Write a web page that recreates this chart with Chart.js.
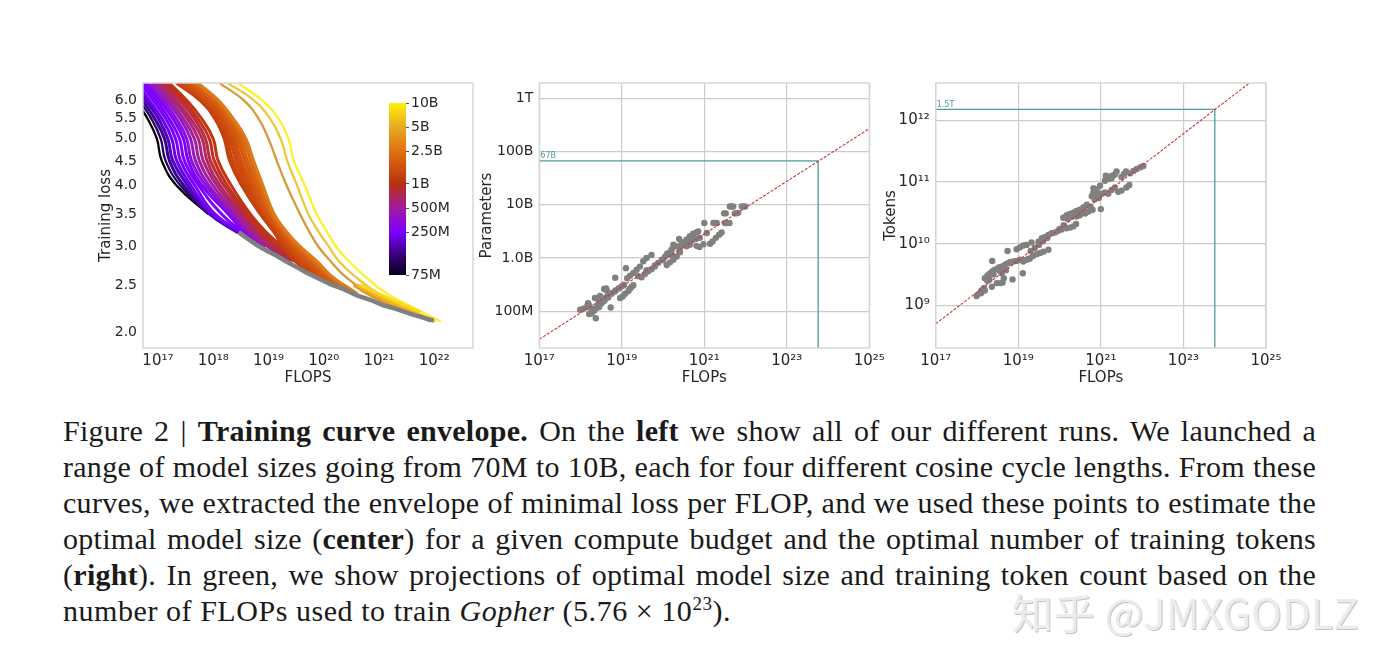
<!DOCTYPE html>
<html><head><meta charset="utf-8">
<script src="https://cdn.jsdelivr.net/npm/chart.js@4"></script>
<style>
html,body{margin:0;padding:0;background:#fff;width:1394px;height:672px;overflow:hidden}
canvas{position:absolute}
#caption{position:absolute;left:63px;top:413px;width:1253px;font-family:"Liberation Serif",serif;font-size:30px;letter-spacing:.28px;line-height:36px;color:#1a1a1a}
#caption div{text-align:justify;text-align-last:justify;white-space:nowrap}
#caption div.last{text-align-last:left;letter-spacing:.55px}
sup{font-size:19px;line-height:0}
#mark{position:absolute;left:1012px;top:581px;font-family:"Noto Sans CJK SC","DejaVu Sans",sans-serif;font-size:41px;color:#ececec;text-shadow:1px 1px 0 #c4c4c4;white-space:nowrap;letter-spacing:.4px}
</style></head><body>
<canvas id="c1" width="392" height="320" style="left:90px;top:70px"></canvas>
<canvas id="cb" width="110" height="200" style="left:370px;top:90px"></canvas>
<canvas id="c2" width="420" height="320" style="left:470px;top:70px"></canvas>
<canvas id="c3" width="420" height="320" style="left:870px;top:70px"></canvas>
<div id="caption">
<div>Figure 2 | <b>Training curve envelope.</b> On the <b>left</b> we show all of our different runs. We launched a</div>
<div>range of model sizes going from 70M to 10B, each for four different cosine cycle lengths. From these</div>
<div>curves, we extracted the envelope of minimal loss per FLOP, and we used these points to estimate the</div>
<div>optimal model size (<b>center</b>) for a given compute budget and the optimal number of training tokens</div>
<div>(<b>right</b>). In green, we show projections of optimal model size and training token count based on the</div>
<div class="last">number of FLOPs used to train <i>Gopher</i> (5.76 × 10<sup>23</sup>).</div>
</div>
<div id="mark">知乎 @JMXGODLZ</div>
<script>
// ---------- left panel data: log10(FLOPS) of each run at each loss level ----------
const lossLevels=[6.5,6.0,5.5,5.0,4.5,4.0,3.5,3.2,3.0,2.8,2.6,2.4,2.2,2.1];
const run00=[16.42,16.60,16.81,16.98,17.07,17.34,17.91];
const run01=[16.47,16.66,16.88,17.05,17.14,17.41,17.92];
const run02=[16.53,16.72,16.94,17.12,17.21,17.47,17.93,18.45];
const run03=[16.58,16.78,17.01,17.18,17.27,17.54,17.95,18.47];
const run04=[16.63,16.84,17.07,17.25,17.34,17.60,17.98,18.49];
const run05=[16.69,16.91,17.14,17.32,17.41,17.67,18.03,18.52];
const run06=[16.74,16.97,17.20,17.39,17.48,17.74,18.15,18.55,18.88];
const run07=[16.79,17.03,17.27,17.46,17.55,17.80,18.27,18.58,18.90];
const run08=[16.84,17.09,17.33,17.52,17.61,17.87,18.32,18.62,18.92];
const run09=[16.90,17.15,17.40,17.59,17.68,17.93,18.37,18.66,18.95];
const run10=[16.95,17.21,17.46,17.66,17.75,18.00,18.42,18.70,18.98,19.33];
const run11=[17.00,17.27,17.53,17.73,17.82,18.07,18.47,18.75,19.02,19.36];
const run12=[17.05,17.33,17.59,17.80,17.89,18.13,18.52,18.80,19.06,19.42];
const run13=[17.11,17.40,17.66,17.86,17.95,18.20,18.57,18.85,19.11,19.47];
const run14=[17.16,17.46,17.72,17.93,18.02,18.26,18.62,18.91,19.17,19.45];
const run15=[17.21,17.52,17.79,18.00,18.09,18.33,18.67,18.97,19.24,19.48];
const run16=[17.34,17.76,18.03,18.20,18.30,18.52,18.85,19.11,19.26,19.48,19.87,20.54];
const run17=[17.39,17.80,18.07,18.25,18.35,18.57,18.88,19.14,19.30,19.53,19.90,20.55];
const run18=[17.44,17.84,18.11,18.30,18.41,18.62,18.91,19.17,19.34,19.58,19.94,20.55];
const run19=[17.49,17.88,18.15,18.35,18.46,18.66,18.94,19.20,19.38,19.63,19.97,20.56];
const run20=[17.53,17.92,18.19,18.39,18.51,18.71,18.97,19.22,19.41,19.67,20.01,20.57];
const run21=[17.58,17.97,18.24,18.44,18.57,18.76,19.01,19.25,19.45,19.72,20.04,20.58];
const run22=[17.63,18.01,18.28,18.49,18.62,18.81,19.04,19.28,19.49,19.77,20.08,20.58];
const run23=[17.68,18.05,18.32,18.54,18.68,18.85,19.07,19.31,19.53,19.82,20.11,20.59];
const run24=[17.73,18.09,18.36,18.59,18.73,18.90,19.10,19.34,19.57,19.87,20.15,20.60];
const run25=[18.12,18.55,18.82,19.00,19.15,19.33,19.57,19.75,19.90,20.12,20.39,20.84,21.57,21.93];
const run26=[18.27,18.73,19.03,19.22,19.34,19.52,19.72,19.92,20.09,20.27,20.57,20.99,21.66,22.02];
const run27=[18.46,18.88,19.18,19.36,19.46,19.66,19.87,20.07,20.22,20.45,20.75,21.14,21.78,22.12];
const lateLoss=[2.5,2.4,2.3,2.2];
const late1=[20.54,20.78,21.11,21.57];
const late2=[20.60,20.90,21.23,21.66];
const late3=[20.66,20.99,21.35,21.75];
const envelopeFlops=[18.46,18.61,18.79,18.97,19.15,19.33,19.51,19.69,19.87,20.12,20.36,20.60,20.84,21.08,21.32,21.57,21.81,21.99];
const envelopeLoss=[3.21,3.12,3.02,2.94,2.87,2.79,2.72,2.65,2.59,2.51,2.45,2.38,2.33,2.27,2.23,2.18,2.14,2.11];
const lossTicks=[2,2.5,3,3.5,4,4.5,5,5.5,6];
const flopsTicksLeft=[17,18,19,20,21,22];
const runs=[run00,run01,run02,run03,run04,run05,run06,run07,run08,run09,run10,run11,run12,run13,run14,run15,run16,run17,run18,run19,run20,run21,run22,run23,run24,run25,run26,run27];
const runColors=['#000000','#240060','#3a0090','#5000c0','#6800e8','#7800ff','#7c00ff','#8000f5','#8810e0','#9418c0','#a01f9c','#aa2480','#b02860','#b82c3c','#be3020','#c23414',
'#c2400e','#c8440e','#cc480e','#d04c0e','#d25210','#d45810','#d86010','#da6a12','#dc7a1c','#d49a3c','#eec83a','#fdf02c'];
const lateColors=['#e89a20','#f0b820','#f8d820'];
const sizeTicks=[75e6,250e6,500e6,1e9,2.5e9,5e9,1e10];
const sizeLabels={75e6:'75M',250e6:'250M',500e6:'500M',1e9:'1B',2.5e9:'2.5B',5e9:'5B',1e10:'10B'};

// ---------- centre panel: log10(FLOPs), log10(parameters) ----------
const paramFlops=[17.99,18.07,18.15,18.18,18.21,18.27,18.37,18.33,18.39,18.45,18.51,18.58,18.35,18.47,18.57,18.62,18.63,18.73,18.67,18.75,18.83,18.92,19.00,19.05,18.84,18.96,19.02,19.08,19.20,19.28,19.10,19.13,19.20,19.28,19.36,19.44,19.52,19.60,19.72,19.48,19.56,19.64,19.72,19.80,19.88,19.97,20.05,20.13,20.21,20.09,20.17,20.25,20.33,20.41,20.25,20.39,20.37,20.49,20.57,20.65,20.73,20.81,20.57,20.65,20.81,20.88,20.98,21.00,20.89,21.06,21.14,21.20,21.28,21.36,21.42,21.22,21.30,21.50,21.61,21.48,21.74,21.82,21.62,21.70,21.91,21.99,
18.45,18.55,18.65,18.75,18.85,18.95,19.05,19.40,19.60,19.80,20.00,20.20,20.40,20.60,20.80,20.30,20.45,20.10,20.20,20.50,20.70,20.75,20.85,21.66,21.95,21.78,21.55,21.26,21.52,18.20,18.30,18.42,18.26,19.16,19.24];
const paramSizes=[8.03,8.05,8.08,8.15,7.95,7.96,7.87,8.01,8.06,8.08,8.15,8.20,8.25,8.29,8.42,8.43,8.40,8.07,8.26,8.33,8.37,8.43,8.47,8.50,8.63,8.25,8.28,8.33,8.43,8.49,8.81,8.62,8.67,8.72,8.78,8.84,8.94,9.00,9.06,8.64,8.70,8.75,8.79,8.84,8.91,8.97,9.03,9.09,9.16,8.87,8.92,8.97,9.03,9.11,9.25,9.36,9.22,9.28,9.35,9.41,9.46,9.48,9.22,9.25,9.23,9.21,9.26,9.66,9.38,9.47,9.27,9.31,9.38,9.44,9.48,9.66,9.66,9.66,9.66,9.84,9.84,9.85,9.97,9.97,9.97,9.97,
8.19,8.24,8.29,8.34,8.39,8.44,8.49,8.66,8.77,8.86,8.96,9.06,9.16,9.26,9.36,9.22,9.30,9.08,9.14,9.24,9.33,9.38,9.50,9.97,9.97,9.84,9.66,9.66,9.84,8.12,8.05,8.12,7.99,8.38,8.46];
const paramFitFlops=[17,25];
const paramFitSizes=[7.474,11.432];
const gopherFlops=5.76e23;
const gopherParams=67e9;
const gopherTokens=1.5e12;
const paramTicks=[1e8,1e9,1e10,1e11,1e12];
const paramLabels={1e8:'100M',1e9:'1.0B',1e10:'10B',1e11:'100B',1e12:'1T'};

// ---------- right panel: log10(FLOPs), log10(tokens) ----------
const tokenFlops=[17.99,18.06,18.11,18.17,18.19,18.19,18.25,18.30,18.36,18.41,18.48,18.54,18.61,18.68,18.74,18.80,18.88,18.96,19.04,18.37,18.36,18.48,18.56,18.62,18.65,18.86,19.11,18.74,18.96,19.04,19.12,19.20,19.32,19.12,19.20,19.28,19.36,19.45,19.53,19.61,19.73,19.49,19.57,19.65,19.73,19.81,19.89,19.97,20.05,20.17,20.25,20.33,20.40,20.09,20.17,20.25,20.33,20.41,20.49,20.58,20.66,20.41,20.49,20.62,20.70,20.80,21.00,20.78,20.82,20.90,20.98,20.94,21.02,21.10,21.18,21.26,21.34,21.42,21.50,21.62,21.69,21.14,21.22,21.30,21.38,21.50,21.56,21.61,21.71,21.79,21.87,21.96,22.03,
18.60,18.70,19.30,19.40,19.50,19.60,19.70,19.15,19.25,20.00,20.10,20.20,20.30,20.40,20.50,20.60,20.75,20.85,20.90,20.95,20.82,21.18,21.26,21.34,21.10,21.12,18.10,18.25,18.30,18.40,18.55];
const tokenCounts=[9.15,9.19,9.24,9.28,9.24,9.44,9.48,9.51,9.54,9.57,9.59,9.62,9.63,9.66,9.68,9.70,9.71,9.72,9.74,9.72,9.30,9.36,9.36,9.37,9.44,9.42,9.52,9.88,9.91,9.94,9.97,9.98,10.02,9.71,9.74,9.76,9.80,9.83,9.85,9.87,9.90,10.03,10.09,10.11,10.14,10.17,10.18,10.21,10.23,10.25,10.26,10.28,10.32,10.42,10.46,10.48,10.50,10.53,10.55,10.59,10.63,10.44,10.46,10.49,10.52,10.55,10.56,10.77,10.83,10.88,10.94,10.79,10.81,10.83,10.81,10.87,10.91,10.84,10.86,10.91,10.95,11.06,11.09,11.11,11.17,11.08,11.13,11.17,11.14,11.18,11.21,11.24,11.26,
9.52,9.57,9.88,9.93,9.98,10.04,10.09,9.73,9.75,10.24,10.30,10.40,10.44,10.50,10.50,10.52,10.60,10.72,10.78,10.74,10.90,11.05,11.06,11.12,11.02,11.10,9.20,9.40,9.42,9.50,9.56];
const tokenFitFlops=[17,24.59];
const tokenFitCounts=[8.70,12.60];
const tokenTicks=[1e9,1e10,1e11,1e12];
const decadeTicks=[17,19,21,23,25];

// ---------- helpers ----------
const TEXT='#262626',GRID='#cccccc',FRAME='#d4d4d4',TEAL='#4f9a9c',RED='#c8383c',GREY='#808080';
const FONT={family:'"DejaVu Sans",sans-serif',size:14};
const FONTX={family:'"DejaVu Sans",sans-serif',size:15};
const FONTT={family:'"DejaVu Sans",sans-serif',size:15};
const SUP={0:'⁰',1:'¹',2:'²',3:'³',4:'⁴',5:'⁵',6:'⁶',7:'⁷',8:'⁸',9:'⁹'};
const pow10=v=>'10'+String(Math.round(Math.log10(v))).split('').map(d=>SUP[d]).join('');
const frame={id:'frame',afterDatasetsDraw(ch){const a=ch.chartArea,c=ch.ctx;c.save();c.strokeStyle=FRAME;c.lineWidth=1.4;c.strokeRect(a.left,a.top,a.width,a.height);c.restore();}};
function projLabel(text,yVal){return {id:'proj',afterDatasetsDraw(ch){const c=ch.ctx;c.save();c.fillStyle=TEAL;c.font='8px "DejaVu Sans",sans-serif';c.textBaseline='bottom';c.fillText(text,ch.chartArea.left+1,ch.scales.y.getPixelForValue(yVal)-1);c.restore();}};}
function xAxis(min,max,ticks,title,grid){return {type:'logarithmic',min:10**min,max:10**max,
  afterBuildTicks(s){s.ticks=ticks.map(e=>({value:10**e}));},
  afterFit(s){s.height=42;s.paddingLeft=0;s.paddingRight=0;},
  ticks:{color:TEXT,font:FONTX,padding:4,autoSkip:false,maxRotation:0,callback:pow10},
  grid:{display:grid,color:GRID,lineWidth:1.2,drawTicks:false},border:{display:false},
  title:{display:true,text:title,color:TEXT,font:FONTT,padding:{top:0,bottom:3}}};}
function yAxis(min,max,ticks,title,w,pad,cb,grid,f){return {type:'logarithmic',min:min,max:max,
  afterBuildTicks(s){s.ticks=ticks.map(v=>({value:v}));},
  afterFit(s){s.width=w;s.paddingTop=0;s.paddingBottom=0;},
  ticks:{color:TEXT,font:f||FONT,padding:6,autoSkip:false,callback:cb},
  grid:{display:grid,color:GRID,lineWidth:1.2,drawTicks:false},border:{display:false},
  title:{display:true,text:title,color:TEXT,font:FONTT,padding:{top:pad,bottom:0}}};}
const zip=(xs,ys)=>xs.map((x,i)=>({x:10**x,y:ys[i]}));
const base={responsive:false,animation:false,events:[],plugins:{legend:{display:false},tooltip:{enabled:false}}};
const curve=(d,c,w,o)=>({type:'line',data:d,borderColor:c,borderWidth:w,pointRadius:0,tension:0.45,order:o});

// ---------- left ----------
new Chart(document.getElementById('c1'),{type:'scatter',
 data:{datasets:[
  ...runs.map((r,i)=>curve(zip(r,lossLevels),runColors[i],i<2?2.3:(i>=25?2.3:(i<16?3:3.2)),100-i)),
  curve(zip(late1,lateLoss),lateColors[0],3,60),
  curve(zip(late2,lateLoss),lateColors[1],3,59),
  curve(zip(late3,lateLoss),lateColors[2],3,58),
  {type:'line',data:zip(envelopeFlops,envelopeLoss),borderColor:GREY,borderWidth:4.5,pointRadius:0,order:1}
 ]},
 options:{...base,layout:{padding:{left:0,right:9,top:13,bottom:0}},
  scales:{x:xAxis(16.73,22.7,flopsTicksLeft,'FLOPS',false),
   y:yAxis(1.854,6.51,lossTicks,'Training loss',53,7,v=>Number(v).toFixed(1),false)}},
 plugins:[frame]});

// ---------- colour bar ----------
new Chart(document.getElementById('cb'),{type:'bar',
 data:{labels:['size'],datasets:[{data:[[75e6,1e10]],barPercentage:1,categoryPercentage:1,
  backgroundColor(ctx){const a=ctx.chart.chartArea;if(!a)return '#000';const g=ctx.chart.ctx.createLinearGradient(0,a.bottom,0,a.top);
   [[0,'#0a0020'],[.1,'#30006a'],[.246,'#7a00ff'],[.388,'#a01aa0'],[.53,'#b83010'],[.717,'#e07010'],[.858,'#e8a825'],[1,'#fff000']].forEach(s=>g.addColorStop(s[0],s[1]));return g;}}]},
 options:{...base,layout:{padding:{left:19,right:0,top:13,bottom:15}},
  scales:{x:{display:false},
   y:{type:'logarithmic',position:'right',min:75e6,max:1e10,
    afterBuildTicks(s){s.ticks=sizeTicks.map(v=>({value:v}));},
    afterFit(s){s.width=74;s.paddingTop=0;s.paddingBottom=0;},
    ticks:{color:TEXT,font:FONT,padding:2,autoSkip:false,callback:v=>sizeLabels[v]},
    grid:{drawOnChartArea:false,drawTicks:true,tickLength:3,color:TEXT,lineWidth:.8},border:{display:false}}}}});

// ---------- centre ----------
new Chart(document.getElementById('c2'),{type:'scatter',
 data:{datasets:[
  {type:'line',data:zip(paramFitFlops,paramFitSizes.map(v=>10**v)),borderColor:RED,borderWidth:1.1,borderDash:[3,1.5],pointRadius:0,order:1},
  {data:zip(paramFlops,paramSizes.map(v=>10**v)),backgroundColor:GREY,borderWidth:0,pointRadius:3.2,order:2},
  {type:'line',data:[{x:1e17,y:gopherParams},{x:gopherFlops,y:gopherParams},{x:gopherFlops,y:1e7}],borderColor:TEAL,borderWidth:1.3,pointRadius:0,order:3}
 ]},
 options:{...base,layout:{padding:{left:0,right:20.7,top:13,bottom:0}},
  scales:{x:xAxis(17,25,decadeTicks,'FLOPs',true),
   y:yAxis(10**7.31,10**12.29,paramTicks,'Parameters',69.3,8,v=>paramLabels[v],true)}},
 plugins:[frame,projLabel('67B',gopherParams)]});

// ---------- right ----------
new Chart(document.getElementById('c3'),{type:'scatter',
 data:{datasets:[
  {type:'line',data:zip(tokenFitFlops,tokenFitCounts.map(v=>10**v)),borderColor:RED,borderWidth:1.1,borderDash:[3,1.5],pointRadius:0,order:1},
  {data:zip(tokenFlops,tokenCounts.map(v=>10**v)),backgroundColor:GREY,borderWidth:0,pointRadius:3.2,order:2},
  {type:'line',data:[{x:1e17,y:gopherTokens},{x:gopherFlops,y:gopherTokens},{x:gopherFlops,y:1e8}],borderColor:TEAL,borderWidth:1.3,pointRadius:0,order:3}
 ]},
 options:{...base,layout:{padding:{left:0,right:24,top:13,bottom:0}},
  scales:{x:xAxis(17,25,decadeTicks,'FLOPs',true),
   y:yAxis(10**8.308,10**12.605,tokenTicks,'Tokens',65.7,12,pow10,true,FONTX)}},
 plugins:[frame,projLabel('1.5T',gopherTokens)]});
</script>
</body></html>
